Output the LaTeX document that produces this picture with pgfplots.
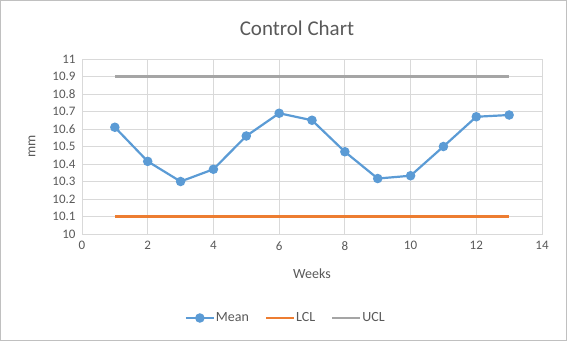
\documentclass[border=0pt]{standalone}
\usepackage{fontspec}
\setmainfont{Carlito}
\usepackage{pgfplots}
\pgfplotsset{compat=1.18}
\definecolor{cblue}{HTML}{5B9BD5}
\definecolor{corange}{HTML}{ED7D31}
\definecolor{cgray}{HTML}{A5A5A5}
\definecolor{ctext}{HTML}{595959}
\definecolor{cgrid}{HTML}{D9D9D9}
\begin{document}
\begin{tikzpicture}
\useasboundingbox (0pt,0pt) rectangle (567pt,341pt);
\draw[color=cgray!70, line width=1pt] (0.5pt,0.5pt) rectangle (566.5pt,340.5pt);
\node[text=ctext, font=\fontsize{21}{24}\selectfont] at (297pt,313pt) {Control Chart};
\begin{axis}[
  at={(82pt,107pt)}, anchor=south west,
  width=460pt, height=175pt, scale only axis,
  xmin=0, xmax=14, ymin=10, ymax=11,
  xtick={0,2,4,6,8,10,12,14},
  ytick={10,10.1,10.2,10.3,10.4,10.5,10.6,10.7,10.8,10.9,11},
  yticklabels={10,10.1,10.2,10.3,10.4,10.5,10.6,10.7,10.8,10.9,11},
  /pgf/number format/assume math mode=true,
  grid=major,
  major grid style={cgrid, line width=0.8pt},
  axis line style={cgrid, line width=0.8pt},
  tick style={draw=none},
  ticklabel style={text=ctext, font=\fontsize{13}{15}\selectfont},
  xticklabel style={yshift=-4pt},
  yticklabel style={xshift=-3pt},
  xlabel={Weeks}, ylabel={mm},
  label style={text=ctext, font=\fontsize{14}{16}\selectfont},
  xlabel style={at={(axis description cs:0.5,-0.225)}, anchor=center},
  ylabel style={at={(axis description cs:-0.109,0.5)}, anchor=center},
  legend columns=3,
  legend style={draw=none, at={(axis description cs:0.443,-0.48)}, anchor=center,
    font=\fontsize{14}{16}\selectfont, text=ctext,
    /tikz/every even column/.append style={column sep=14pt},
    /tikz/every odd column/.append style={column sep=-1pt}},
  legend image code/.code={
    \draw[#1, mark repeat=2, mark phase=2] plot coordinates {(0pt,0pt) (14pt,0pt) (28pt,0pt)};
  },
]
\addplot[color=cblue, line width=2.2pt, mark=*, mark size=3.6pt, mark options={fill=cblue, draw=cblue}]
  coordinates {(1,10.61) (2,10.415) (3,10.30) (4,10.37) (5,10.56) (6,10.69) (7,10.65) (8,10.47) (9,10.317) (10,10.333) (11,10.50) (12,10.67) (13,10.68)};
\addlegendentry{Mean}
\addplot[color=corange, line width=2.2pt] coordinates {(1,10.1) (13,10.1)};
\addlegendentry{LCL}
\addplot[color=cgray, line width=2.2pt] coordinates {(1,10.9) (13,10.9)};
\addlegendentry{UCL}
\end{axis}
\end{tikzpicture}
\end{document}
